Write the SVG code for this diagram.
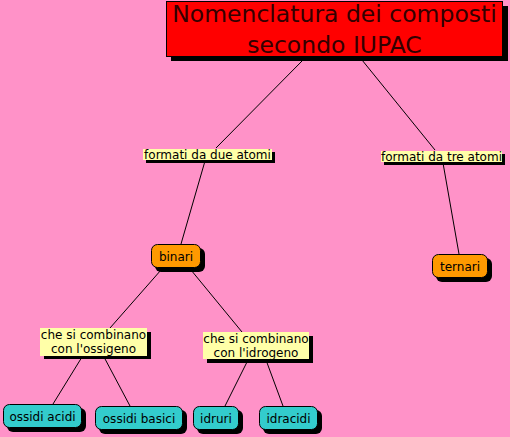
<svg xmlns="http://www.w3.org/2000/svg" width="510" height="437" viewBox="0 0 510 437">
<style>
.t{font-family:"DejaVu Sans","Verdana",sans-serif;font-size:12px;fill:#000;text-anchor:middle}
.title{font-family:"DejaVu Sans","Verdana",sans-serif;font-size:23.5px;fill:#330000;text-anchor:middle}
.sh{fill:#000}
.lbl{fill:#ffffa8}
.org{fill:#ff9900;stroke:#000;stroke-width:1}
.teal{fill:#33cccc;stroke:#000;stroke-width:1}
.conn line{stroke:#000;stroke-width:1}
</style>
<rect width="510" height="437" fill="#ff92c8"/>
<g class="conn" id="connectors">
<line x1="303" y1="60" x2="216" y2="148"/>
<line x1="362" y1="60" x2="435" y2="150"/>
<line x1="205" y1="161" x2="181" y2="244"/>
<line x1="443" y1="163" x2="459" y2="254"/>
<line x1="161" y1="270" x2="110" y2="328"/>
<line x1="191" y1="270" x2="242" y2="332"/>
<line x1="82" y1="357" x2="53" y2="404"/>
<line x1="104" y1="357" x2="130" y2="406"/>
<line x1="248" y1="360" x2="225" y2="406"/>
<line x1="266" y1="360" x2="283" y2="406"/>
</g>
<g id="title">
<rect class="sh" x="171" y="6" width="337" height="55"/>
<rect x="166.5" y="1.5" width="336" height="55" fill="#ff0000" stroke="#000" stroke-width="1"/>
<text class="title" x="334.5" y="22">Nomenclatura dei composti</text>
<text class="title" x="334.5" y="53">secondo IUPAC</text>
</g>
<g id="lbl-due">
<rect class="sh" x="146" y="152" width="129" height="11"/>
<rect class="lbl" x="143" y="149" width="129" height="11"/>
<text class="t" x="207.5" y="158.5">formati da due atomi</text>
</g>
<g id="lbl-tre">
<rect class="sh" x="384" y="154" width="121" height="11"/>
<rect class="lbl" x="381" y="151" width="121" height="11"/>
<text class="t" x="441.5" y="160.5">formati da tre atomi</text>
</g>
<g id="binari">
<rect class="sh" x="155" y="248" width="50" height="24" rx="6"/>
<rect class="org" x="151.5" y="244.5" width="49" height="23" rx="6"/>
<text class="t" x="176" y="260.5">binari</text>
</g>
<g id="ternari">
<rect class="sh" x="436" y="258" width="56" height="24" rx="6"/>
<rect class="org" x="432.5" y="254.5" width="55" height="23" rx="6"/>
<text class="t" x="460" y="270.5">ternari</text>
</g>
<g id="lbl-ossigeno">
<rect class="sh" x="44" y="332" width="107" height="27"/>
<rect class="lbl" x="40" y="328" width="107" height="28"/>
<text class="t" x="93.5" y="339">che si combinano</text>
<text class="t" x="93.5" y="352.5">con l'ossigeno</text>
</g>
<g id="lbl-idrogeno">
<rect class="sh" x="207" y="336" width="106" height="27"/>
<rect class="lbl" x="203" y="332" width="106" height="27"/>
<text class="t" x="256" y="343">che si combinano</text>
<text class="t" x="256" y="356.5">con l'idrogeno</text>
</g>
<g id="ossidi-acidi">
<rect class="sh" x="7" y="408" width="79" height="24" rx="6"/>
<rect class="teal" x="3.5" y="404.5" width="78" height="23" rx="6"/>
<text class="t" x="42.5" y="420.5">ossidi acidi</text>
</g>
<g id="ossidi-basici">
<rect class="sh" x="99" y="410" width="88" height="24" rx="6"/>
<rect class="teal" x="95.5" y="406.5" width="87" height="23" rx="6"/>
<text class="t" x="139" y="422.5">ossidi basici</text>
</g>
<g id="idruri">
<rect class="sh" x="197" y="410" width="46" height="24" rx="6"/>
<rect class="teal" x="193.5" y="406.5" width="45" height="23" rx="6"/>
<text class="t" x="216" y="422.5">idruri</text>
</g>
<g id="idracidi">
<rect class="sh" x="263" y="410" width="59" height="24" rx="6"/>
<rect class="teal" x="259.5" y="406.5" width="58" height="23" rx="6"/>
<text class="t" x="288.5" y="422.5">idracidi</text>
</g>
</svg>
